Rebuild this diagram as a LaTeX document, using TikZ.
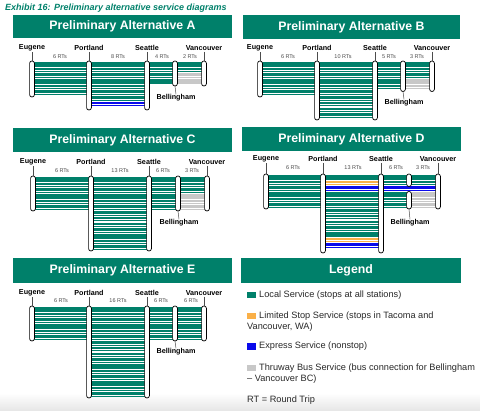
\documentclass[tikz,border=0pt]{standalone}
\usepackage{fontspec}
\setmainfont{Liberation Sans}
\definecolor{amgreen}{RGB}{0,128,106}
\definecolor{amorange}{RGB}{250,176,72}
\definecolor{amblue}{RGB}{10,10,235}
\definecolor{amgray}{RGB}{200,200,200}
\definecolor{amtext}{RGB}{40,40,40}
\newcommand\rtrows[6]{%
  \foreach \i in {#4,...,#5}{%
    \fill[#6] (#1,{#3+\i*5.7}) rectangle (#2,{#3+\i*5.7+2.6});
    \fill[#6] (#1,{#3+\i*5.7+3.4}) rectangle (#2,{#3+\i*5.7+4.6});
  }}
\newcommand\stbar[3]{\draw[fill=white,line width=0.7pt,rounded corners=2.3pt] ({#1-2.4},#2) rectangle ({#1+2.4},#3);}
\tikzset{
  hdr/.style={fill=amgreen,text=white,inner sep=0pt,font=\bfseries\fontsize{12.3}{14}\selectfont},
  stn/.style={inner sep=0pt,font=\bfseries\fontsize{7.2}{8}\selectfont},
  rtl/.style={inner sep=0pt,text=black!70,font=\fontsize{5.5}{6}\selectfont},
  tickln/.style={line width=0.5pt,black!70},
  leg/.style={anchor=west,inner sep=0pt,text=amtext,font=\fontsize{9.2}{11}\selectfont},
  sq/.style={inner sep=0pt,minimum width=9pt,minimum height=6.5pt}
}
\begin{document}
\begin{tikzpicture}[x=1pt,y=-1pt]
\useasboundingbox (0,0) rectangle (480,411);
\shade[top color=white,bottom color=black!10] (0,393) rectangle (480,411);
\node[anchor=west,inner sep=0pt,text=amgreen,font=\bfseries\itshape\fontsize{9}{10}\selectfont] (title) at (5,8) {Exhibit 16: Preliminary alternative service diagrams};

% ---------------- Panel A ----------------
\node[hdr,minimum width=219pt,minimum height=23pt] (hA) at (122.5,26.5) {Preliminary Alternative A};
\rtrows{32}{89}{62}{0}{5}{amgreen}
\rtrows{89}{147}{62}{0}{6}{amgreen}
\rtrows{89}{147}{62}{7}{7}{amblue}
\rtrows{147}{175}{62}{0}{3}{amgreen}
\rtrows{175}{204}{62}{0}{1}{amgreen}
\rtrows{175}{204}{62}{2}{3}{amgray}
\stbar{32}{61}{97}\stbar{89}{61}{110}\stbar{147}{61}{110}\stbar{175}{61}{86}\stbar{204}{61}{86}
\node[stn] (aE) at (32,48) {Eugene};
\node[stn] (aP) at (89,48) {Portland};
\node[stn] (aS) at (147,48) {Seattle};
\node[stn] (aV) at (204,48) {Vancouver};
\node[stn] (aB) at (176,98) {Bellingham};
\draw[tickln] (aE.south) ++(0,1) -- (32,61);
\draw[tickln] (aP.south) ++(0,1) -- (89,61);
\draw[tickln] (aS.south) ++(0,1) -- (147,61);
\draw[tickln] (aV.south) ++(0,1) -- (204,61);
\draw[tickln] (175,86) -- (aB.north);
\node[rtl] (aR1) at (60,57) {6 RTs};
\node[rtl] (aR2) at (118,57) {8 RTs};
\node[rtl] (aR3) at (162,57) {4 RTs};
\node[rtl] (aR4) at (190,57) {2 RTs};

% ---------------- Panel B ----------------
\node[hdr,minimum width=217pt,minimum height=24pt] (hB) at (351.5,27) {Preliminary Alternative B};
\rtrows{260}{317}{62}{0}{5}{amgreen}
\rtrows{317}{375}{62}{0}{9}{amgreen}
\rtrows{375}{403}{62}{0}{4}{amgreen}
\rtrows{403}{432}{62}{0}{2}{amgreen}
\rtrows{403}{432}{62}{3}{4}{amgray}
\stbar{260}{61}{97}\stbar{317}{61}{120}\stbar{375}{61}{120}\stbar{403}{61}{91.5}\stbar{432}{61}{91.5}
\node[stn] (bE) at (260,48) {Eugene};
\node[stn] (bP) at (317,48) {Portland};
\node[stn] (bS) at (375,48) {Seattle};
\node[stn] (bV) at (432,48) {Vancouver};
\node[stn] (bB) at (404,103) {Bellingham};
\draw[tickln] (bE.south) ++(0,1) -- (260,61);
\draw[tickln] (bP.south) ++(0,1) -- (317,61);
\draw[tickln] (bS.south) ++(0,1) -- (375,61);
\draw[tickln] (bV.south) ++(0,1) -- (432,61);
\draw[tickln] (403,91.5) -- (bB.north);
\node[rtl] (bR1) at (288,57) {6 RTs};
\node[rtl] (bR2) at (343,57) {10 RTs};
\node[rtl] (bR3) at (389,57) {5 RTs};
\node[rtl] (bR4) at (417,57) {3 RTs};

% ---------------- Panel C ----------------
\node[hdr,minimum width=219pt,minimum height=24pt] (hC) at (122.5,140) {Preliminary Alternative C};
\rtrows{33}{91}{177}{0}{5}{amgreen}
\rtrows{91}{149}{177}{0}{12}{amgreen}
\rtrows{149}{178}{177}{0}{5}{amgreen}
\rtrows{178}{207}{177}{0}{2}{amgreen}
\rtrows{178}{207}{177}{3}{5}{amgray}
\stbar{33}{176}{211}\stbar{91}{176}{251}\stbar{149}{176}{251}\stbar{178}{176}{211}\stbar{207}{176}{211}
\node[stn] (cE) at (33,162) {Eugene};
\node[stn] (cP) at (91,162) {Portland};
\node[stn] (cS) at (149,162) {Seattle};
\node[stn] (cV) at (207,162) {Vancouver};
\node[stn] (cB) at (179,223) {Bellingham};
\draw[tickln] (cE.south) ++(0,1) -- (33,176);
\draw[tickln] (cP.south) ++(0,1) -- (91,176);
\draw[tickln] (cS.south) ++(0,1) -- (149,176);
\draw[tickln] (cV.south) ++(0,1) -- (207,176);
\draw[tickln] (178,211) -- (cB.north);
\node[rtl] (cR1) at (62,171) {6 RTs};
\node[rtl] (cR2) at (120,171) {13 RTs};
\node[rtl] (cR3) at (163,171) {6 RTs};
\node[rtl] (cR4) at (192,171) {3 RTs};

% ---------------- Panel D ----------------
\node[hdr,minimum width=219pt,minimum height=24pt] (hD) at (351.5,139) {Preliminary Alternative D};
\rtrows{266}{323}{175}{0}{5}{amgreen}
\rtrows{323}{381}{175}{0}{0}{amgreen}
\rtrows{323}{381}{175}{1}{1}{amorange}
\rtrows{323}{381}{175}{3}{10}{amgreen}
\rtrows{323}{381}{175}{11}{11}{amorange}
\rtrows{323}{381}{175}{12}{12}{amblue}
\rtrows{381}{409}{175}{0}{1}{amgreen}
\rtrows{381}{409}{175}{3}{5}{amgreen}
\rtrows{323}{438}{175}{2}{2}{amblue}
\rtrows{409}{438}{175}{0}{1}{amgreen}
\rtrows{409}{438}{175}{3}{5}{amgray}
\stbar{266}{174}{209}\stbar{323}{174}{253}\stbar{381}{174}{253}\stbar{409}{174}{186.5}\stbar{409}{191.5}{209}\stbar{438}{174}{209}
\node[stn] (dE) at (266,159) {Eugene};
\node[stn] (dP) at (323,159) {Portland};
\node[stn] (dS) at (381,159) {Seattle};
\node[stn] (dV) at (438,159) {Vancouver};
\node[stn] (dB) at (410,223) {Bellingham};
\draw[tickln] (dE.south) ++(0,1) -- (266,174);
\draw[tickln] (dP.south) ++(0,1) -- (323,174);
\draw[tickln] (dS.south) ++(0,1) -- (381,174);
\draw[tickln] (dV.south) ++(0,1) -- (438,174);
\draw[tickln] (409,209) -- (dB.north);
\node[rtl] (dR1) at (293,168) {6 RTs};
\node[rtl] (dR2) at (353,168) {13 RTs};
\node[rtl] (dR3) at (396,168) {6 RTs};
\node[rtl] (dR4) at (423,168) {3 RTs};

% ---------------- Panel E ----------------
\node[hdr,minimum width=219pt,minimum height=25pt] (hE) at (122.5,270.5) {Preliminary Alternative E};
\rtrows{32}{89}{307}{0}{5}{amgreen}
\rtrows{89}{147}{307}{0}{15}{amgreen}
\rtrows{147}{175}{307}{0}{5}{amgreen}
\rtrows{175}{204}{307}{0}{5}{amgreen}
\stbar{32}{306}{341}\stbar{89}{306}{398}\stbar{147}{306}{398}\stbar{175}{306}{341}\stbar{204}{306}{341}
\node[stn] (eE) at (32,293) {Eugene};
\node[stn] (eP) at (89,293) {Portland};
\node[stn] (eS) at (147,293) {Seattle};
\node[stn] (eV) at (204,293) {Vancouver};
\node[stn] (eB) at (176,352) {Bellingham};
\draw[tickln] (eE.south) ++(0,1) -- (32,306);
\draw[tickln] (eP.south) ++(0,1) -- (89,306);
\draw[tickln] (eS.south) ++(0,1) -- (147,306);
\draw[tickln] (eV.south) ++(0,1) -- (204,306);
\draw[tickln] (175,341) -- (eB.north);
\node[rtl] (eR1) at (61,301) {6 RTs};
\node[rtl] (eR2) at (118,301) {16 RTs};
\node[rtl] (eR3) at (161,301) {6 RTs};
\node[rtl] (eR4) at (191,301) {6 RTs};

% ---------------- Legend ----------------
\node[hdr,minimum width=220pt,minimum height=25pt] (hL) at (351,270.5) {Legend};
\node[sq,fill=amgreen] (sqG) at (251.5,295) {};
\node[leg] (tG) at (259,295) {Local Service (stops at all stations)};
\node[sq,fill=amorange] (sqO) at (251.5,316) {};
\node[leg] (tO) at (259,316) {Limited Stop Service (stops in Tacoma and};
\node[leg] (tO2) at (247,327) {Vancouver, WA)};
\node[sq,fill=amblue] (sqB) at (251.5,346.5) {};
\node[leg] (tB) at (259,346.5) {Express Service (nonstop)};
\node[sq,fill=amgray] (sqY) at (251.5,368) {};
\node[leg] (tY) at (259,368) {Thruway Bus Service (bus connection for Bellingham};
\node[leg] (tY2) at (247,379) {– Vancouver BC)};
\node[leg] (tRT) at (247,400) {RT = Round Trip};
\end{tikzpicture}
\end{document}
